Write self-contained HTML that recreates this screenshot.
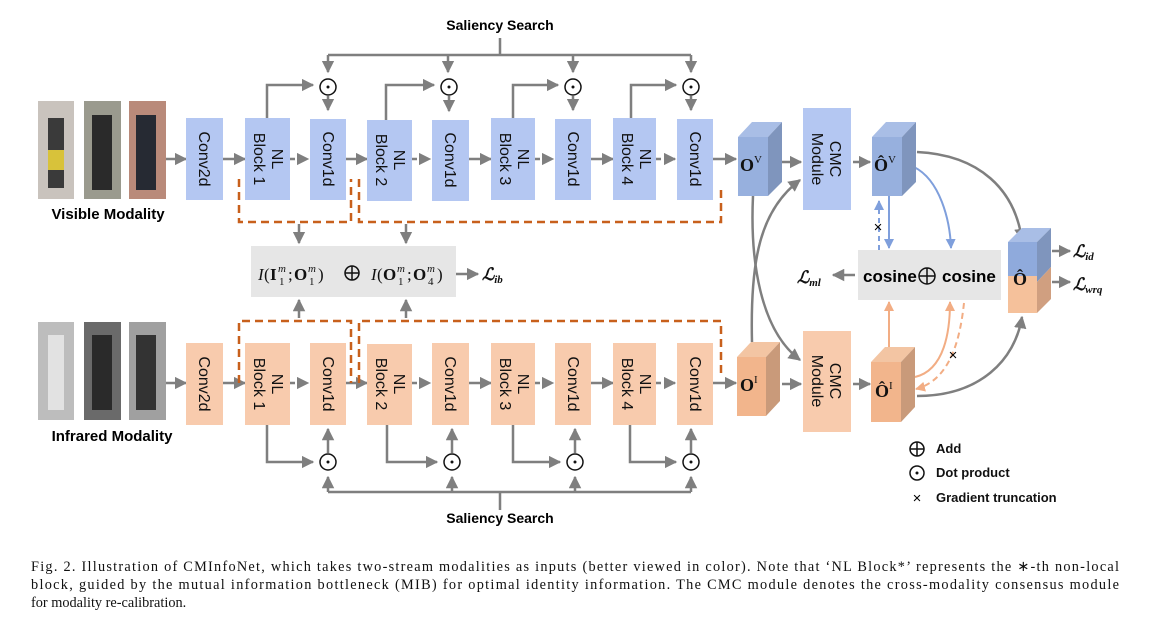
<!DOCTYPE html>
<html><head><meta charset="utf-8"><style>
html,body{margin:0;padding:0;background:#fff;}
svg{display:block;font-family:"Liberation Sans",sans-serif;}
.t{font-size:16px;fill:#111;}
</style></head><body>
<svg width="1149" height="630" viewBox="0 0 1149 630" xmlns="http://www.w3.org/2000/svg">
<defs>
<marker id="a" viewBox="0 0 10 10" refX="9" refY="5" markerWidth="5" markerHeight="5" orient="auto"><path d="M0,0L10,5L0,10z" fill="#7f7f7f"/></marker>
<marker id="ab" viewBox="0 0 10 10" refX="9" refY="5" markerWidth="5" markerHeight="5" orient="auto"><path d="M0,0L10,5L0,10z" fill="#7f9fdc"/></marker>
<marker id="ao" viewBox="0 0 10 10" refX="9" refY="5" markerWidth="5" markerHeight="5" orient="auto"><path d="M0,0L10,5L0,10z" fill="#f2ad84"/></marker>
</defs>
<g>
<rect x="38" y="101" width="36" height="98" fill="#c9c3bd"/><rect x="48" y="118" width="16" height="70" fill="#3a3a3a"/><rect x="48" y="150" width="16" height="20" fill="#d8c23a"/>
<rect x="84" y="101" width="37" height="98" fill="#9a9a8e"/><rect x="92" y="115" width="20" height="75" fill="#2a2a2a"/>
<rect x="129" y="101" width="37" height="98" fill="#b98a7a"/><rect x="136" y="115" width="20" height="75" fill="#262a33"/>
<rect x="38" y="322" width="36" height="98" fill="#bdbdbd"/><rect x="48" y="335" width="16" height="75" fill="#e2e2e2"/>
<rect x="84" y="322" width="37" height="98" fill="#6a6a6a"/><rect x="92" y="335" width="20" height="75" fill="#2a2a2a"/>
<rect x="129" y="322" width="37" height="98" fill="#a0a0a0"/><rect x="136" y="335" width="20" height="75" fill="#333"/>
</g>
<text x="108" y="219" text-anchor="middle" font-weight="bold" font-size="15">Visible Modality</text>
<text x="112" y="441" text-anchor="middle" font-weight="bold" font-size="15">Infrared Modality</text>
<text x="500" y="30" text-anchor="middle" font-weight="bold" font-size="14">Saliency Search</text>
<text x="500" y="523" text-anchor="middle" font-weight="bold" font-size="14">Saliency Search</text>

<g stroke="#7f7f7f" stroke-width="2.5" fill="none">
<path d="M500,38V55M328,55H691"/>
<path d="M328,55V72" marker-end="url(#a)"/><path d="M448,55V72" marker-end="url(#a)"/><path d="M573,55V72" marker-end="url(#a)"/><path d="M691,55V72" marker-end="url(#a)"/>
<path d="M328,96V110" marker-end="url(#a)"/><path d="M449,96V111" marker-end="url(#a)"/><path d="M573,96V110" marker-end="url(#a)"/><path d="M691,96V110" marker-end="url(#a)"/>
<path d="M267,118V85H313" marker-end="url(#a)"/><path d="M386,120V85H434" marker-end="url(#a)"/><path d="M513,118V85H558" marker-end="url(#a)"/><path d="M631,118V85H676" marker-end="url(#a)"/>
<path d="M500,510V492M328,492H691"/>
<path d="M328,492V477" marker-end="url(#a)"/><path d="M452,492V477" marker-end="url(#a)"/><path d="M575,492V477" marker-end="url(#a)"/><path d="M691,492V477" marker-end="url(#a)"/>
<path d="M328,453V429" marker-end="url(#a)"/><path d="M452,453V429" marker-end="url(#a)"/><path d="M575,453V429" marker-end="url(#a)"/><path d="M691,453V429" marker-end="url(#a)"/>
<path d="M267,425V462H313" marker-end="url(#a)"/><path d="M387,425V462H437" marker-end="url(#a)"/><path d="M513,425V462H560" marker-end="url(#a)"/><path d="M630,425V462H676" marker-end="url(#a)"/>
<path d="M166,159H186" marker-end="url(#a)"/><path d="M223,159H245" marker-end="url(#a)"/><path d="M346,159H367" marker-end="url(#a)"/><path d="M469,159H491" marker-end="url(#a)"/><path d="M591,159H613" marker-end="url(#a)"/><path d="M713,159H736" marker-end="url(#a)"/>
<path d="M166,383H186" marker-end="url(#a)"/><path d="M223,383H245" marker-end="url(#a)"/><path d="M346,383H367" marker-end="url(#a)"/><path d="M469,383H491" marker-end="url(#a)"/><path d="M591,383H613" marker-end="url(#a)"/><path d="M713,383H736" marker-end="url(#a)"/>
<path d="M299,224V243" marker-end="url(#a)"/><path d="M406,224V243" marker-end="url(#a)"/>
<path d="M299,318V300" marker-end="url(#a)"/><path d="M406,318V300" marker-end="url(#a)"/>
<path d="M456,274H478" marker-end="url(#a)"/>
</g>
<g stroke="#7f7f7f" stroke-width="2.5" fill="none" stroke-dasharray="5,4">
<path d="M290,159H308" marker-end="url(#a)"/><path d="M412,159H430" marker-end="url(#a)"/><path d="M535,159H553" marker-end="url(#a)"/><path d="M656,159H675" marker-end="url(#a)"/>
<path d="M290,383H308" marker-end="url(#a)"/><path d="M412,383H430" marker-end="url(#a)"/><path d="M535,383H553" marker-end="url(#a)"/><path d="M656,383H675" marker-end="url(#a)"/>
</g>
<g stroke="#c8601c" stroke-width="2.5" fill="none" stroke-dasharray="8,5">
<path d="M239,179V222H351V179"/><path d="M359,179V222H721V190"/>
<path d="M239,383V321H351V383"/><path d="M359,383V321H721V378"/>
</g>
<g stroke="#111" stroke-width="1.5" fill="#fff">
<circle cx="328" cy="87" r="8"/><circle cx="449" cy="87" r="8"/><circle cx="573" cy="87" r="8"/><circle cx="691" cy="87" r="8"/>
<circle cx="328" cy="462" r="8"/><circle cx="452" cy="462" r="8"/><circle cx="575" cy="462" r="8"/><circle cx="691" cy="462" r="8"/>
</g>
<g fill="#111">
<circle cx="328" cy="87" r="1.5"/><circle cx="449" cy="87" r="1.5"/><circle cx="573" cy="87" r="1.5"/><circle cx="691" cy="87" r="1.5"/>
<circle cx="328" cy="462" r="1.5"/><circle cx="452" cy="462" r="1.5"/><circle cx="575" cy="462" r="1.5"/><circle cx="691" cy="462" r="1.5"/>
</g>
<g fill="#b4c7f2">
<rect x="186" y="118" width="37" height="82"/><rect x="245" y="118" width="45" height="82"/><rect x="310" y="119" width="36" height="81"/>
<rect x="367" y="120" width="45" height="81"/><rect x="432" y="120" width="37" height="81"/><rect x="491" y="118" width="44" height="82"/>
<rect x="555" y="119" width="36" height="81"/><rect x="613" y="118" width="43" height="82"/><rect x="677" y="119" width="36" height="81"/>
</g>
<g fill="#f8cbad">
<rect x="186" y="343" width="37" height="82"/><rect x="245" y="343" width="45" height="82"/><rect x="310" y="343" width="36" height="82"/>
<rect x="367" y="344" width="45" height="81"/><rect x="432" y="343" width="37" height="82"/><rect x="491" y="343" width="44" height="82"/>
<rect x="555" y="343" width="36" height="82"/><rect x="613" y="343" width="43" height="82"/><rect x="677" y="343" width="36" height="82"/>
</g>
<g class="t">
<text transform="translate(199,159) rotate(90)" text-anchor="middle">Conv2d</text>
<text transform="translate(323,159) rotate(90)" text-anchor="middle">Conv1d</text>
<text transform="translate(445,160) rotate(90)" text-anchor="middle">Conv1d</text>
<text transform="translate(568,159) rotate(90)" text-anchor="middle">Conv1d</text>
<text transform="translate(690,159) rotate(90)" text-anchor="middle">Conv1d</text>
<text transform="translate(272,159) rotate(90)" text-anchor="middle">NL</text><text transform="translate(254,159) rotate(90)" text-anchor="middle">Block 1</text>
<text transform="translate(394,160) rotate(90)" text-anchor="middle">NL</text><text transform="translate(376,160) rotate(90)" text-anchor="middle">Block 2</text>
<text transform="translate(518,159) rotate(90)" text-anchor="middle">NL</text><text transform="translate(500,159) rotate(90)" text-anchor="middle">Block 3</text>
<text transform="translate(640,159) rotate(90)" text-anchor="middle">NL</text><text transform="translate(622,159) rotate(90)" text-anchor="middle">Block 4</text>
<text transform="translate(199,384) rotate(90)" text-anchor="middle">Conv2d</text>
<text transform="translate(323,384) rotate(90)" text-anchor="middle">Conv1d</text>
<text transform="translate(445,384) rotate(90)" text-anchor="middle">Conv1d</text>
<text transform="translate(568,384) rotate(90)" text-anchor="middle">Conv1d</text>
<text transform="translate(690,384) rotate(90)" text-anchor="middle">Conv1d</text>
<text transform="translate(272,384) rotate(90)" text-anchor="middle">NL</text><text transform="translate(254,384) rotate(90)" text-anchor="middle">Block 1</text>
<text transform="translate(394,384) rotate(90)" text-anchor="middle">NL</text><text transform="translate(376,384) rotate(90)" text-anchor="middle">Block 2</text>
<text transform="translate(518,384) rotate(90)" text-anchor="middle">NL</text><text transform="translate(500,384) rotate(90)" text-anchor="middle">Block 3</text>
<text transform="translate(640,384) rotate(90)" text-anchor="middle">NL</text><text transform="translate(622,384) rotate(90)" text-anchor="middle">Block 4</text>
</g>
<rect x="251" y="246" width="205" height="51" fill="#e6e6e6"/>
<g font-family="Liberation Serif,serif" font-size="17" fill="#111">
<text x="258" y="280" font-style="italic">I</text><text x="264" y="280">(</text>
<text x="270" y="280" font-weight="bold">I</text><text x="278" y="272" font-size="11" font-style="italic">m</text><text x="279" y="285" font-size="11">1</text>
<text x="288" y="280">;</text><text x="294" y="280" font-weight="bold">O</text><text x="308" y="272" font-size="11" font-style="italic">m</text><text x="309" y="285" font-size="11">1</text>
<text x="318" y="280">)</text>
<text x="371" y="280" font-style="italic">I</text><text x="377" y="280">(</text>
<text x="383" y="280" font-weight="bold">O</text><text x="397" y="272" font-size="11" font-style="italic">m</text><text x="398" y="285" font-size="11">1</text>
<text x="407" y="280">;</text><text x="413" y="280" font-weight="bold">O</text><text x="427" y="272" font-size="11" font-style="italic">m</text><text x="428" y="285" font-size="11">4</text>
<text x="437" y="280">)</text>
<text x="482" y="280" font-weight="bold" font-style="italic">ℒ<tspan font-size="11" dy="3">ib</tspan></text>
</g>
<g stroke="#111" stroke-width="1.5" fill="none"><circle cx="352" cy="273" r="7"/><path d="M345,273H359M352,266V280"/></g>

<g stroke="#7f7f7f" stroke-width="2.5" fill="none">
<path d="M782,162H801" marker-end="url(#a)"/><path d="M853,162H870" marker-end="url(#a)"/>
<path d="M782,384H801" marker-end="url(#a)"/><path d="M853,384H870" marker-end="url(#a)"/>
<path d="M753,196C750,260 760,330 800,360" marker-end="url(#a)"/>
<path d="M752,342C750,260 760,210 800,180" marker-end="url(#a)"/>
<path d="M917,152C980,155 1015,190 1022,240" marker-end="url(#a)"/>
<path d="M917,396C980,396 1015,360 1022,317" marker-end="url(#a)"/>
<path d="M855,275H833" marker-end="url(#a)"/>
<path d="M1052,251H1070" marker-end="url(#a)"/><path d="M1052,282H1070" marker-end="url(#a)"/>
</g>
<rect x="858" y="250" width="143" height="50" fill="#e6e6e6"/>
<text x="863" y="282" font-weight="bold" font-size="17">cosine</text>
<text x="942" y="282" font-weight="bold" font-size="17">cosine</text>
<g stroke="#111" stroke-width="1.5" fill="none"><circle cx="927" cy="276" r="8"/><path d="M919,276H935M927,268V284"/></g>
<g font-family="Liberation Serif,serif" font-weight="bold" font-style="italic" font-size="17" fill="#111">
<text x="797" y="283">ℒ<tspan font-size="11" dy="3">ml</tspan></text>
<text x="1073" y="257">ℒ<tspan font-size="11" dy="3">id</tspan></text>
<text x="1073" y="290">ℒ<tspan font-size="11" dy="3">wrq</tspan></text>
</g>
<g stroke-width="2" fill="none">
<path d="M889,196V248" stroke="#7f9fdc" marker-end="url(#ab)"/>
<path d="M879,250V201" stroke="#7f9fdc" stroke-dasharray="5,4" marker-end="url(#ab)"/>
<path d="M914,167C940,180 950,220 951,248" stroke="#7f9fdc" marker-end="url(#ab)"/>
<path d="M889,348V302" stroke="#f2ad84" marker-end="url(#ao)"/>
<path d="M915,377C945,370 950,330 950,302" stroke="#f2ad84" marker-end="url(#ao)"/>
<path d="M964,303C960,340 950,380 916,389" stroke="#f2ad84" stroke-dasharray="6,4" marker-end="url(#ao)"/>
</g>
<text x="878" y="232" font-size="15" text-anchor="middle">×</text>
<text x="953" y="360" font-size="15" text-anchor="middle">×</text>

<g>
<polygon points="738,137 752,122 782,122 768,137" fill="#a9bee6"/><polygon points="768,137 782,122 782,182 768,196" fill="#7f95bd"/><rect x="738" y="137" width="30" height="59" fill="#97b0de"/>
<polygon points="872,137 886,122 916,122 902,137" fill="#a9bee6"/><polygon points="902,137 916,122 916,182 902,196" fill="#7f95bd"/><rect x="872" y="137" width="30" height="59" fill="#97b0de"/>
<polygon points="737,357 751,342 780,342 766,357" fill="#f3c5a3"/><polygon points="766,357 780,342 780,401 766,416" fill="#c99a7a"/><rect x="737" y="357" width="29" height="59" fill="#f2b58c"/>
<polygon points="871,362 885,347 915,347 901,362" fill="#f3c5a3"/><polygon points="901,362 915,347 915,407 901,422" fill="#c99a7a"/><rect x="871" y="362" width="30" height="60" fill="#f2b58c"/>
<polygon points="1008,242 1022,228 1051,228 1037,242" fill="#a9bee6"/><polygon points="1037,242 1051,228 1051,267 1037,282" fill="#7f95bd"/><polygon points="1037,282 1051,267 1051,299 1037,313" fill="#d09f80"/>
<rect x="1008" y="242" width="29" height="34" fill="#8faadc"/><rect x="1008" y="276" width="29" height="37" fill="#f5c19b"/>
<rect x="803" y="108" width="48" height="102" fill="#b4c7f2"/><rect x="803" y="331" width="48" height="101" fill="#f8cbad"/>
</g>
<g class="t">
<text transform="translate(830,159) rotate(90)" text-anchor="middle">CMC</text><text transform="translate(812,159) rotate(90)" text-anchor="middle">Module</text>
<text transform="translate(830,381) rotate(90)" text-anchor="middle">CMC</text><text transform="translate(812,381) rotate(90)" text-anchor="middle">Module</text>
</g>
<g font-family="Liberation Serif,serif" font-weight="bold" font-size="18" fill="#111">
<text x="740" y="171">O<tspan font-size="11" font-weight="normal" dy="-8">V</tspan></text>
<text x="874" y="171">Ô<tspan font-size="11" font-weight="normal" dy="-8">V</tspan></text>
<text x="740" y="391">O<tspan font-size="11" font-weight="normal" dy="-8">I</tspan></text>
<text x="875" y="397">Ô<tspan font-size="11" font-weight="normal" dy="-8">I</tspan></text>
<text x="1013" y="285">Ô</text>
</g>
<g stroke="#111" stroke-width="1.5" fill="none"><circle cx="917" cy="449" r="7"/><path d="M910,449H924M917,442V456"/><circle cx="917" cy="473" r="7"/></g>
<circle cx="917" cy="473" r="1.5" fill="#111"/>
<text x="917" y="503" font-size="15" text-anchor="middle">×</text>
<g font-weight="bold" font-size="13" fill="#111">
<text x="936" y="453">Add</text><text x="936" y="477">Dot product</text><text x="936" y="502">Gradient truncation</text>
</g>
<g font-family="Liberation Serif,serif" font-size="14.3" fill="#111">
<text x="31" y="571" textLength="1088" lengthAdjust="spacing">Fig. 2.  Illustration of CMInfoNet, which takes two-stream modalities as inputs (better viewed in color). Note that ‘NL Block*’ represents the ∗-th non-local</text>
<text x="31" y="589" textLength="1088" lengthAdjust="spacing">block, guided by the mutual information bottleneck (MIB) for optimal identity information. The CMC module denotes the cross-modality consensus module</text>
<text x="31" y="607">for modality re-calibration.</text>
</g>
</svg>
</body></html>
